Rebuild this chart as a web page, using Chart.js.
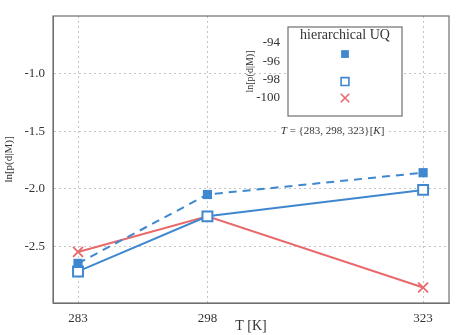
<!DOCTYPE html>
<html>
<head>
<meta charset="utf-8">
<script src="https://cdn.jsdelivr.net/npm/chart.js@4/dist/chart.umd.min.js"></script>
<style>
  html, body { margin: 0; padding: 0; background: #fff; }
  #wrap { position: relative; width: 474px; height: 335px; }
  #main { position: absolute; left: 0; top: 0; }
  #inset { position: absolute; left: 236px; top: 0px; }
</style>
</head>
<body>
<div id="wrap">
  <canvas id="main" width="474" height="335"></canvas>
  <canvas id="inset" width="174" height="140"></canvas>
</div>
<script>
// ---- data ----
const temps = [283, 298, 323];
const filledSquare = [-2.65, -2.05, -1.86];
const openSquare = [-2.72, -2.24, -2.01];
const crosses = [-2.55, -2.24, -2.86];
const xTicks = [283, 298, 323];
const yTicks = [-2.5, -2.0, -1.5, -1.0];

const insetTitle = 'hierarchical UQ';
const insetValues = [-95.2, -98.2, -100.0];
const insetTicks = [-100, -98, -96, -94];
const annotParts = [['T', true], [' = {283, 298, 323}[', false], ['K', true], [']', false]];

const BLUE = '#3f88cf';
const RED = '#e8696c';
const SERIF = "'Liberation Serif', 'DejaVu Serif', serif";

Chart.defaults.font.family = SERIF;
Chart.defaults.color = '#333';
Chart.defaults.animation = false;

const pts = arr => temps.map((t, i) => ({x: t, y: arr[i]}));

const boxPlugin = {
  id: 'box',
  afterDraw(chart) {
    const a = chart.chartArea, ctx = chart.ctx;
    ctx.save();
    ctx.strokeStyle = '#6f6f6f';
    ctx.lineWidth = 1.2;
    ctx.strokeRect(a.left, a.top, a.right - a.left, a.bottom - a.top);
    ctx.restore();
  }
};

const annotPlugin = {
  id: 'annot',
  afterDatasetsDraw(chart) {
    const ctx = chart.ctx;
    const cx = chart.scales.x.getPixelForValue(312.5);
    const y = chart.scales.y.getPixelForValue(-1.5);
    ctx.save();
    ctx.textBaseline = 'middle';
    ctx.textAlign = 'left';
    const fontOf = it => (it ? 'italic ' : '') + '11px ' + SERIF;
    let w = 0;
    annotParts.forEach(([s, it]) => { ctx.font = fontOf(it); w += ctx.measureText(s).width; });
    ctx.fillStyle = '#fff';
    ctx.fillRect(cx - w / 2 - 2, y - 6, w + 4, 12);
    ctx.fillStyle = '#333';
    let x = cx - w / 2;
    annotParts.forEach(([s, it]) => { ctx.font = fontOf(it); ctx.fillText(s, x, y); x += ctx.measureText(s).width; });
    ctx.restore();
  }
};

new Chart(document.getElementById('main'), {
  type: 'line',
  data: {
    datasets: [
      {
        data: pts(filledSquare),
        borderColor: BLUE, backgroundColor: BLUE,
        borderWidth: 2, borderDash: [8, 6], pointStyle: 'rect', pointRadius: 6.5,
        pointBorderWidth: 0, pointBackgroundColor: BLUE
      },
      {
        data: pts(openSquare),
        borderColor: BLUE, backgroundColor: '#fff',
        borderWidth: 2, pointStyle: 'rect', pointRadius: 7,
        pointBorderWidth: 2, pointBackgroundColor: '#fff', pointBorderColor: BLUE
      },
      {
        data: pts(crosses),
        borderColor: RED, backgroundColor: RED,
        borderWidth: 2, pointStyle: 'crossRot', pointRadius: 7,
        pointBorderWidth: 1.8, pointBorderColor: RED
      }
    ]
  },
  options: {
    responsive: false,
    layout: { padding: { top: 16, right: 25, left: 0, bottom: 0 } },
    plugins: { legend: { display: false }, tooltip: { enabled: false } },
    scales: {
      x: {
        type: 'linear', min: 280.1, max: 326,
        afterBuildTicks: s => { s.ticks = xTicks.map(v => ({value: v})); },
        afterFit: s => { s.height = 32; },
        grid: { color: '#c4c4c4', drawTicks: false },
        border: { display: true, color: '#6f6f6f', dash: [2, 3] },
        ticks: { padding: 8, font: { size: 13 }, color: '#333', callback: v => String(v) },
        title: { display: true, text: 'T [K]', font: { size: 14 }, color: '#333', padding: { top: 0, bottom: 0 } }
      },
      y: {
        type: 'linear', min: -2.995, max: -0.495,
        afterBuildTicks: s => { s.ticks = yTicks.map(v => ({value: v})); },
        afterFit: s => { s.width = 53; },
        grid: { color: '#c4c4c4', drawTicks: false },
        border: { display: true, color: '#6f6f6f', dash: [2, 3] },
        ticks: { padding: 8, font: { size: 13 }, color: '#333', callback: v => v.toFixed(1) },
        title: { display: true, text: 'ln[p(d|M)]', font: { size: 11 }, color: '#333', padding: { top: 3, bottom: 0 } }
      }
    }
  },
  plugins: [boxPlugin, annotPlugin]
});

const insetPlugin = {
  id: 'insetBox',
  beforeDraw(chart) {
    const a = chart.chartArea, ctx = chart.ctx;
    ctx.save();
    ctx.fillStyle = '#fff';
    ctx.fillRect(a.left, a.top, a.right - a.left, a.bottom - a.top);
    ctx.restore();
  },
  afterDraw(chart) {
    const a = chart.chartArea, ctx = chart.ctx;
    ctx.save();
    ctx.strokeStyle = '#6f6f6f';
    ctx.lineWidth = 1.2;
    ctx.strokeRect(a.left, a.top, a.right - a.left, a.bottom - a.top);
    ctx.font = "14px " + SERIF;
    ctx.fillStyle = '#333';
    ctx.textAlign = 'center';
    ctx.textBaseline = 'middle';
    ctx.fillText(insetTitle, (a.left + a.right) / 2, a.top + 8.5);
    ctx.restore();
  }
};

new Chart(document.getElementById('inset'), {
  type: 'scatter',
  data: {
    datasets: [
      { data: [{x: 1, y: insetValues[0]}], pointStyle: 'rect', pointRadius: 5.5, pointBorderWidth: 0, pointBackgroundColor: BLUE },
      { data: [{x: 1, y: insetValues[1]}], pointStyle: 'rect', pointRadius: 5.5, pointBorderWidth: 1.6, pointBackgroundColor: '#fff', pointBorderColor: BLUE },
      { data: [{x: 1, y: insetValues[2]}], pointStyle: 'crossRot', pointRadius: 6, pointBorderWidth: 1.6, pointBorderColor: RED }
    ]
  },
  options: {
    responsive: false,
    layout: { padding: { top: 27, right: 8, bottom: 24, left: 0 } },
    plugins: { legend: { display: false }, tooltip: { enabled: false } },
    scales: {
      x: { type: 'linear', min: 0, max: 2, display: false },
      y: {
        type: 'linear', min: -101.96, max: -92.25,
        afterBuildTicks: s => { s.ticks = insetTicks.map(v => ({value: v})); },
        afterFit: s => { s.width = 52; },
        grid: { display: false, drawTicks: false },
        border: { display: false },
        ticks: { padding: 8, font: { size: 13 }, color: '#333', callback: v => String(v) },
        title: { display: true, text: 'ln[p(d|M)]', font: { size: 10 }, color: '#333', padding: { top: 8, bottom: 0 } }
      }
    }
  },
  plugins: [insetPlugin]
});
</script>
</body>
</html>
